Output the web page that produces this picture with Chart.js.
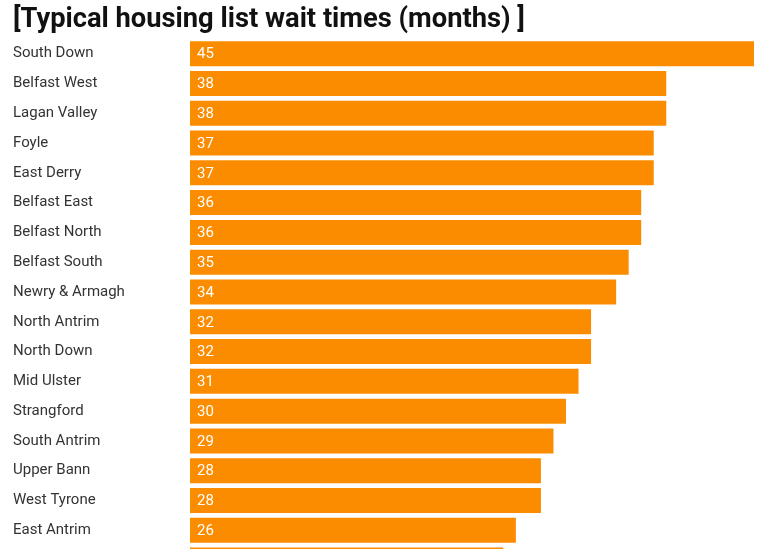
<!DOCTYPE html>
<html>
<head>
<meta charset="utf-8">
<script src="https://cdn.jsdelivr.net/npm/chart.js@4"></script>
<style>
  html, body { margin: 0; padding: 0; background: #fff; overflow: hidden; }
  #wrap { width: 768px; height: 584px; }
</style>
</head>
<body>
<div id="wrap"><canvas id="chart" width="768" height="584"></canvas></div>
<script>
// constituencies, longest wait first
var constituencies = [
  'South Down', 'Belfast West', 'Lagan Valley', 'Foyle', 'East Derry',
  'Belfast East', 'Belfast North', 'Belfast South', 'Newry & Armagh',
  'North Antrim', 'North Down', 'Mid Ulster', 'Strangford', 'South Antrim',
  'Upper Bann', 'West Tyrone', 'East Antrim', 'Fermanagh & South Tyrone'
];
var waitMonths = [45, 38, 38, 37, 37, 36, 36, 35, 34, 32, 32, 31, 30, 29, 28, 28, 26, 25];

// write the value just inside the start of each bar
var valueLabels = {
  id: 'valueLabels',
  afterDatasetsDraw: function(chart) {
    var ctx = chart.ctx;
    var meta = chart.getDatasetMeta(0);
    ctx.save();
    ctx.fillStyle = '#fff';
    ctx.font = '15px Roboto';
    ctx.textAlign = 'left';
    ctx.textBaseline = 'middle';
    meta.data.forEach(function(bar, i) {
      ctx.fillText(waitMonths[i], bar.base + 7, bar.y + 1);
    });
    ctx.restore();
  }
};

new Chart(document.getElementById('chart'), {
  type: 'bar',
  data: {
    labels: constituencies,
    datasets: [{
      data: waitMonths,
      backgroundColor: '#FB8C00',
      categoryPercentage: 1,
      barPercentage: 0.84
    }]
  },
  options: {
    indexAxis: 'y',
    responsive: false,
    animation: false,
    layout: { padding: { left: 13, right: 14, top: 0, bottom: 0 } },
    plugins: {
      legend: { display: false },
      tooltip: { enabled: false },
      title: {
        display: true,
        text: '[Typical housing list wait times (months) ]',
        align: 'start',
        color: '#111',
        font: { family: 'Roboto', size: 27.3, weight: 'bold', lineHeight: 1.2 },
        padding: { top: 4, bottom: 2 }
      }
    },
    scales: {
      x: { display: false, min: 0, max: 45 },
      y: {
        grid: { display: false },
        border: { display: false },
        afterFit: function(scale) { scale.width = 177; },
        ticks: {
          crossAlign: 'far',
          color: '#333',
          padding: 0,
          autoSkip: false,
          font: { family: 'Roboto', size: 15 }
        }
      }
    }
  },
  plugins: [valueLabels]
});
</script>
</body>
</html>
